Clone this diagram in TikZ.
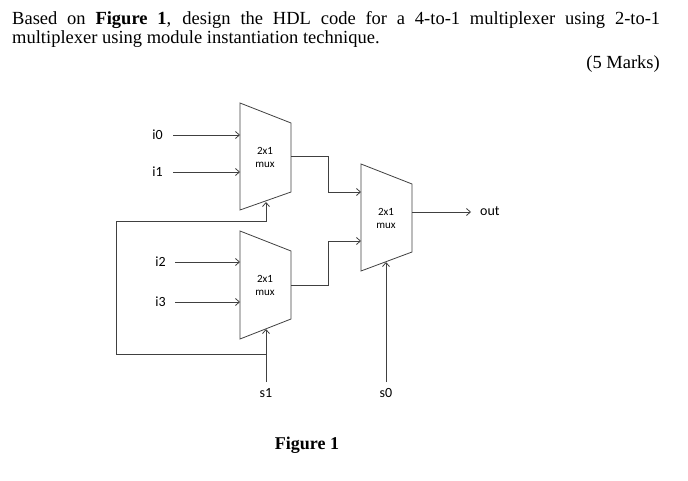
\documentclass[tikz,border=0pt]{standalone}
\usepackage{fontspec}
\usetikzlibrary{arrows.meta}
\setmainfont{Liberation Serif}
\newfontfamily\calib{Carlito}
\begin{document}
\begin{tikzpicture}[x=1pt,y=-1pt,
  w/.style={line width=0.8pt,draw=black!75},
  arr/.style={w,-{Straight Barb[length=4pt,width=7pt]}},
  lab/.style={font=\calib\fontsize{14}{14}\selectfont,inner sep=0pt},
  mlab/.style={font=\calib\fontsize{11}{13}\selectfont,align=center,inner sep=0pt}]
\useasboundingbox (0,0) rectangle (688,481);
\node[anchor=north west,text width=648pt,align=justify,inner sep=0pt,font=\fontsize{18.5}{19.5}\selectfont] (q) at (12,11)
 {Based on \textbf{Figure 1}, design the HDL code for a 4-to-1 multiplexer using 2-to-1\linebreak multiplexer using module instantiation technique.};
\node[anchor=east,inner sep=0pt,font=\fontsize{18.5}{19}\selectfont] (mk) at (660,64) {(5 Marks)};
% muxes
\draw[w] (240,103) -- (291,123) -- (291,192) -- (240,210) -- cycle;
\draw[w] (240,231) -- (291,251) -- (291,319) -- (240,339) -- cycle;
\draw[w] (361,164) -- (412,184) -- (412,252) -- (361,271) -- cycle;
\node[mlab] (m1) at (265,157) {2x1\\mux};
\node[mlab] (m2) at (265,285) {2x1\\mux};
\node[mlab] (m3) at (386,218) {2x1\\mux};
% inputs
\node[lab,anchor=east] (i0) at (163,135) {i0};
\node[lab,anchor=east] (i1) at (163,172) {i1};
\node[lab,anchor=east] (i2) at (166,262) {i2};
\node[lab,anchor=east] (i3) at (166,302) {i3};
\draw[arr] (173,135) -- (240,135);
\draw[arr] (173,172) -- (240,172);
\draw[arr] (175,262) -- (240,262);
\draw[arr] (175,302) -- (240,302);
% internal
\draw[arr] (291,156) -- (328,156) -- (328,192) -- (361,192);
\draw[arr] (291,285) -- (328,285) -- (328,241) -- (361,241);
\draw[arr] (412,212) -- (471,212);
\node[lab,anchor=west] (out) at (480,211) {out};
% selects
\node[lab] (s1) at (266,393) {s1};
\node[lab] (s0) at (386,393) {s0};
\draw[arr] (266,382) -- (266,329);
\draw[arr] (266,354) -- (116,354) -- (116,221) -- (266,221) -- (266,202);
\draw[arr] (386,382) -- (386,262);
\node[inner sep=0pt,font=\bfseries\fontsize{18}{19}\selectfont] (f) at (307,445) {Figure 1};
\end{tikzpicture}
\end{document}
